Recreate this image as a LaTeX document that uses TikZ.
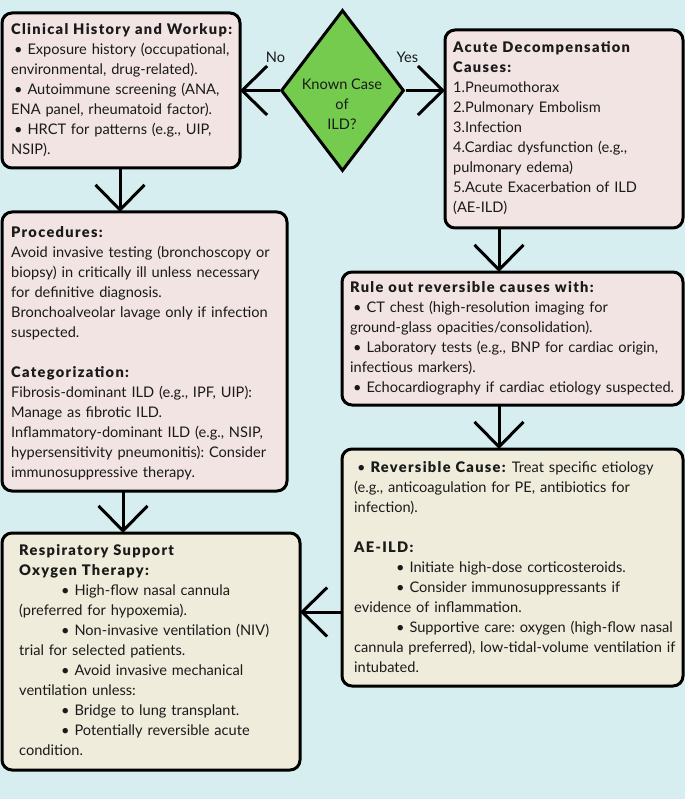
\documentclass[tikz,border=0pt]{standalone}
\usepackage{fontspec}
\setmainfont{Lato}[BoldFont={Lato Black}, BoldFeatures={LetterSpace=9}]
\usetikzlibrary{arrows.meta,shapes.geometric}
\definecolor{bgc}{HTML}{D6EEF0}
\definecolor{pinkbox}{HTML}{F2E4E3}
\definecolor{creambox}{HTML}{EFECDB}
\definecolor{dgreen}{HTML}{74CB4E}
\definecolor{ink}{HTML}{1A1A1A}
\frenchspacing
\tikzset{
  boxbase/.style={draw=black, line width=3pt, rounded corners=10pt, inner sep=0pt, outer sep=0pt, anchor=north west},
  pbox/.style={boxbase, fill=pinkbox},
  cbox/.style={boxbase, fill=creambox},
  txt/.style={anchor=north west, inner sep=0pt, align=left, text=ink, font=\fontsize{14.6}{20}\selectfont\frenchspacing},
  arr/.style={line width=3pt, -{Straight Barb[length=25pt, width=49pt, line width=3pt]}},
  lbl/.style={text=ink, font=\fontsize{14.6}{20}\selectfont, inner sep=0pt, anchor=base}
}
\begin{document}
\begin{tikzpicture}[x=1pt,y=-1pt]
\fill[bgc] (0,0) rectangle (685,799);
\useasboundingbox (0,0) rectangle (685,799);

% boxes
\node[pbox, minimum width=238pt, minimum height=155pt] (b1) at (2,13) {};
\node[pbox, minimum width=238pt, minimum height=198pt] (b2) at (445,30) {};
\node[pbox, minimum width=341pt, minimum height=133pt] (b3) at (342,272) {};
\node[cbox, minimum width=341pt, minimum height=237pt] (b4) at (342,449) {};
\node[pbox, minimum width=285pt, minimum height=279pt] (bp) at (2,212) {};
\node[cbox, minimum width=298pt, minimum height=237pt] (br) at (2,533) {};
\node[diamond, draw=black, fill=dgreen, line width=3pt, minimum width=123pt, minimum height=161pt, inner sep=0pt] (d) at (342.5,90.5) {};

% texts
\node[txt, align=center, anchor=north] (dt) at (342,75) {\strut Known Case\\of\\ILD?};

\node[txt, text width=236pt] (t1) at (11,20) {\strut\textbf{Clinical History and Workup:}\\
\hspace*{3pt}• Exposure history (occupational,\\
environmental, drug-related).\\
\hspace*{3pt}• Autoimmune screening (ANA,\\
ENA panel, rheumatoid factor).\\
\hspace*{3pt}• HRCT for patterns (e.g., UIP,\\
NSIP).};

\node[txt, text width=236pt] (t2) at (453,38) {\strut\textbf{Acute Decompensation}\\
\textbf{Causes:}\\
1.Pneumothorax\\
2.Pulmonary Embolism\\
3.Infection\\
4.Cardiac dysfunction (e.g.,\\
pulmonary edema)\\
5.Acute Exacerbation of ILD\\
(AE-ILD)};

\node[txt, text width=345pt] (t3) at (350,278) {\strut\textbf{Rule out reversible causes with:}\\
\hspace*{3pt}• CT chest (high-resolution imaging for\\
ground-glass opacities/consolidation).\\
\hspace*{3pt}• Laboratory tests (e.g., BNP for cardiac origin,\\
infectious markers).\\
\hspace*{3pt}• Echocardiography if cardiac etiology suspected.};

\node[txt, text width=345pt] (t4) at (354,458) {\strut\hspace*{3pt}• \textbf{Reversible Cause:} Treat specific etiology\\
(e.g., anticoagulation for PE, antibiotics for\\
infection).\\[20pt]
\textbf{AE-ILD:}\\
\hspace*{42pt}• Initiate high-dose corticosteroids.\\
\hspace*{42pt}• Consider immunosuppressants if\\
evidence of inflammation.\\
\hspace*{42pt}• Supportive care: oxygen (high-flow nasal\\
cannula preferred), low-tidal-volume ventilation if\\
intubated.};

\node[txt, text width=290pt] (tp) at (11,223) {\strut\textbf{Procedures:}\\
Avoid invasive testing (bronchoscopy or\\
biopsy) in critically ill unless necessary\\
for definitive diagnosis.\\
Bronchoalveolar lavage only if infection\\
suspected.\\[20pt]
\textbf{Categorization:}\\
Fibrosis-dominant ILD (e.g., IPF, UIP):\\
Manage as fibrotic ILD.\\
Inflammatory-dominant ILD (e.g., NSIP,\\
hypersensitivity pneumonitis): Consider\\
immunosuppressive therapy.};

\node[txt, text width=290pt] (tr) at (19,541) {\strut\textbf{Respiratory Support}\\
\textbf{Oxygen Therapy:}\\
\hspace*{42pt}• High-flow nasal cannula\\
(preferred for hypoxemia).\\
\hspace*{42pt}• Non-invasive ventilation (NIV)\\
trial for selected patients.\\
\hspace*{42pt}• Avoid invasive mechanical\\
ventilation unless:\\
\hspace*{42pt}• Bridge to lung transplant.\\
\hspace*{42pt}• Potentially reversible acute\\
condition.};

% connectors
\draw[arr] (d.west) -- node[lbl, pos=0.1, yshift=28pt] (no) {No} (d.west -| b1.east);
\draw[arr] (d.east) -- node[lbl, pos=0.05, yshift=28pt] (yes) {Yes} (d.east -| b2.west);
\draw[arr] ([xshift=-1pt]b1.south) -- ([xshift=-1pt]b1.south |- bp.north);
\draw[arr] ([xshift=-65pt]b2.south) -- ([xshift=-65pt]b2.south |- b3.north);
\draw[arr] ([xshift=-13.5pt]b3.south) -- ([xshift=-13.5pt]b3.south |- b4.north);
\draw[arr] ([xshift=-21.5pt]bp.south) -- ([xshift=-21.5pt]bp.south |- br.north);
\draw[arr] ([yshift=-44.5pt]b4.west) -- ([yshift=-44.5pt]b4.west -| br.east);
\end{tikzpicture}
\end{document}
